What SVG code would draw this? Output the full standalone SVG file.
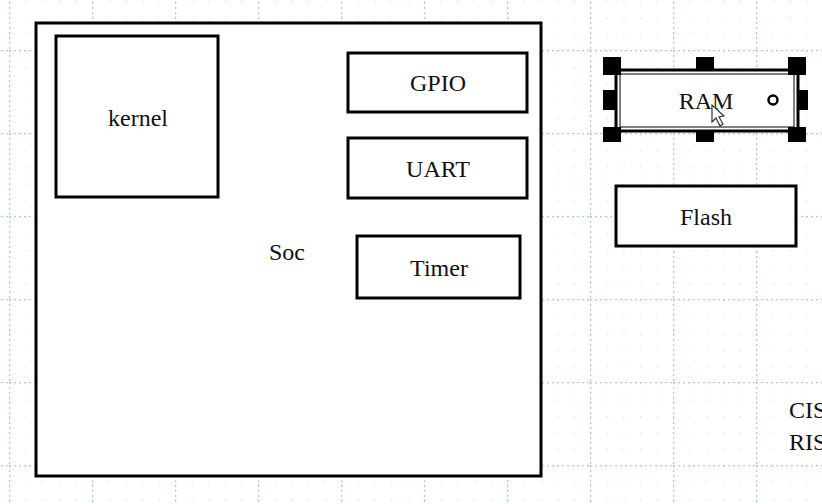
<svg xmlns="http://www.w3.org/2000/svg" width="822" height="504" viewBox="0 0 822 504">
<defs>
<pattern id="minor" x="9" y="1" width="16.6" height="16.6" patternUnits="userSpaceOnUse"><rect x="0" y="0" width="1.5" height="1.5" fill="#dde8dd"/></pattern>
<pattern id="major" x="9" y="50" width="83" height="83" patternUnits="userSpaceOnUse">
<line x1="0" y1="0.5" x2="83" y2="0.5" stroke="#a8d8a8" stroke-width="1.5" stroke-dasharray="2,3"/>
<line x1="0.5" y1="0" x2="0.5" y2="83" stroke="#a8d8a8" stroke-width="1.5" stroke-dasharray="2,3"/>
</pattern>
</defs>
<style>
.b{fill:#fff;stroke:#000;stroke-width:3}
.t{font-family:"Liberation Serif",serif;font-size:24px;fill:#111;text-anchor:middle}
.h{fill:#000}
</style>
<rect width="822" height="504" fill="#fff"/>
<rect width="822" height="504" fill="url(#minor)"/>
<rect width="822" height="504" fill="url(#major)"/>
<g id="soc"><rect class="b" x="36" y="23" width="505" height="453"/><text class="t" x="287" y="260">Soc</text></g>
<g id="kernel"><rect class="b" x="56" y="36" width="162" height="161"/><text class="t" x="138" y="126">kernel</text></g>
<g id="gpio"><rect class="b" x="348" y="53" width="179" height="59"/><text class="t" x="438" y="91">GPIO</text></g>
<g id="uart"><rect class="b" x="348" y="138" width="179" height="60"/><text class="t" x="438" y="177">UART</text></g>
<g id="timer"><rect class="b" x="357" y="236" width="163" height="62"/><text class="t" x="439" y="276">Timer</text></g>
<g id="ram"><rect class="b" x="616" y="70" width="182" height="61"/><rect x="620" y="74" width="174" height="53" fill="none" stroke="#000" stroke-width="1"/><text class="t" x="706" y="109" fill="#333">RAM</text>
<circle cx="773" cy="100" r="4.5" fill="none" stroke="#000" stroke-width="2.5"/>
<g class="h"><rect x="603" y="57" width="18" height="18"/><rect x="696" y="57" width="18" height="12"/><rect x="788" y="57" width="18" height="18"/><rect x="603" y="90" width="12" height="20"/><rect x="798" y="90" width="10" height="20"/><rect x="603" y="127" width="18" height="15"/><rect x="696" y="131" width="18" height="11"/><rect x="788" y="127" width="18" height="15"/></g>
<path d="M712 105 L712 122 L716 118 L720 126 L723 124 L719 117 L724 116 Z" fill="#fff" stroke="#333" stroke-width="1.2"/></g>
<g id="flash"><rect class="b" x="616" y="186" width="180" height="60"/><text class="t" x="706" y="225">Flash</text></g>
<g id="notes"><text x="789" y="418" style="font-family:'Liberation Serif',serif;font-size:24px;fill:#111">CISC</text><text x="789" y="450" style="font-family:'Liberation Serif',serif;font-size:24px;fill:#111">RISC</text></g>
<g id="connectors"/>
</svg>
